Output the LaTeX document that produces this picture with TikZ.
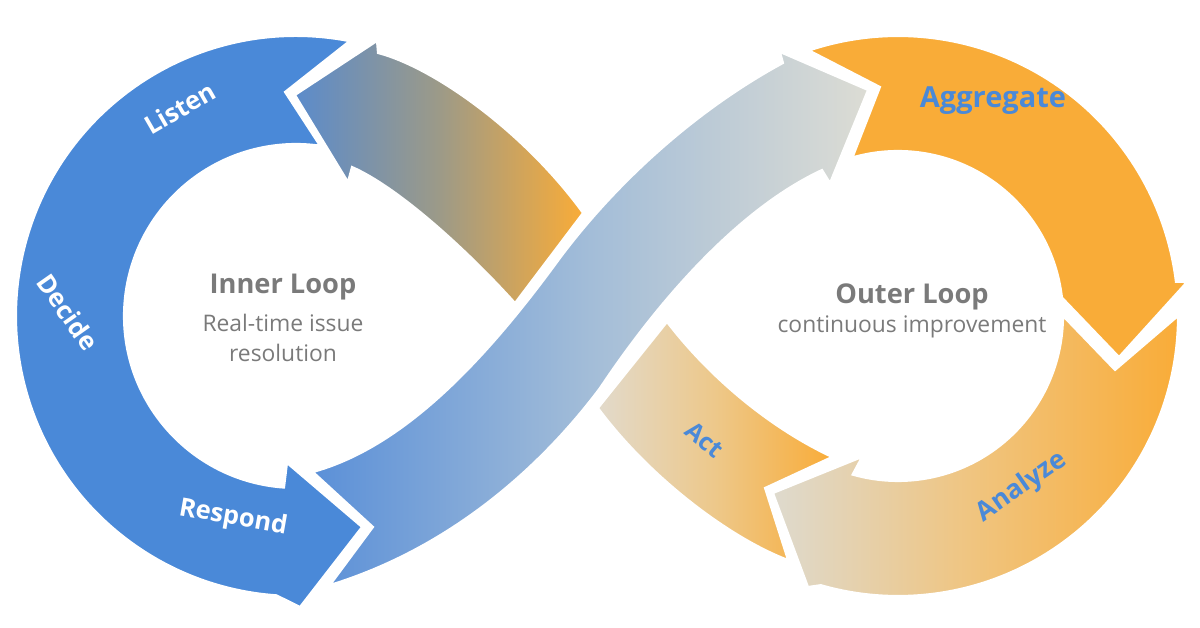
\documentclass[tikz,border=0pt]{standalone}
\usepackage{fontspec}
\setmainfont{Open Sans}
\usetikzlibrary{calc}
\begin{document}
\begin{tikzpicture}[x=0.02cm,y=0.02cm,
  seg/.style={draw=white,line width=1.2pt},
  lab/.style={font=\bfseries\fontsize{14.5}{16}\selectfont,text=white},
  blab/.style={font=\bfseries\fontsize{16.5}{18}\selectfont,text=bblue},
  ttl/.style={font=\bfseries\fontsize{15.5}{18}\selectfont,text=tgrey},
  sub/.style={font=\fontsize{13}{15}\selectfont,text=tgrey}]
\definecolor{bblue}{HTML}{4A89D8}
\definecolor{org}{HTML}{F9AC38}
\definecolor{tgrey}{HTML}{7A7A7A}
\definecolor{aL}{HTML}{5B8BCB}\definecolor{aM}{HTML}{9C9A88}
\definecolor{eL}{HTML}{E2DACB}\definecolor{eM}{HTML}{EDC88A}
\definecolor{dL}{HTML}{DEDACE}\definecolor{dM}{HTML}{F0C47E}
\definecolor{bL}{HTML}{5B90D8}\definecolor{bM}{HTML}{A3BDD8}\definecolor{bR}{HTML}{DCDCD4}
\useasboundingbox (0,0) rectangle (1200,628);
\coordinate (L) at (296,312);
\coordinate (R) at (898,312);
% left blue band
\path[seg,fill=bblue] ($(L)+(79:280)$) arc[start angle=79,end angle=266,radius=280]
  -- (300,21) -- (362,101) -- (287,165) -- ($(L)+(266:172)$)
  arc[start angle=266,end angle=82,radius=172] -- (285,536) -- cycle;
% A: grey-orange arrow to Listen
\path[seg,left color=aL,right color=org,middle color=aM]
  (295,533) -- (377,587) -- (378,575) .. controls (435,560) and (525,495) .. (583,415)
  -- (515,325) .. controls (470,375) and (400,440) .. (352,461) -- (348,446) -- cycle;
% E: Act
\path[seg,left color=eL,right color=org,middle color=eM]
  (667,306) .. controls (710,250) and (770,200) .. (832,171) -- (765,140) -- (788,68)
  .. controls (730,90) and (650,150) .. (598,220) -- cycle;
% D: Analyze
\path[seg,left color=dL,right color=org,middle color=dM]
  ($(R)+(0:280)$) arc[start angle=0,end angle=-106,radius=280] -- (808,41) -- (773,135)
  -- (862,171) -- ($(R)+(-106:165)$) arc[start angle=-106,end angle=0,radius=165]
  -- (1115,258) -- cycle;
% C: Aggregate
\path[seg,fill=org] ($(R)+(108.5:280)$) arc[start angle=108.5,end angle=7,radius=280]
  -- (1187,346) -- (1119,271) -- (1048,345) -- ($(R)+(7:165)$)
  arc[start angle=7,end angle=106,radius=165] -- (880,541) -- cycle;
% B: crossing
\path[seg,left color=bL,right color=bR,middle color=bM]
  (313,156) -- (373,101) -- (330,43) .. controls (450,80) and (540,160) .. (600,240)
  .. controls (660,330) and (740,420) .. (822,458) -- (830,445) -- (868,538) -- (780,576)
  -- (783,565) .. controls (700,520) and (620,450) .. (560,370)
  .. controls (480,260) and (400,180) .. (313,156) -- cycle;
% labels
\node[lab,rotate=30] (listen) at (180,520) {Listen};
\node[lab,rotate=-55] (decide) at (68,316) {Decide};
\node[lab,rotate=-10] (respond) at (233,110) {Respond};
\node[blab] (agg) at (993,527) {Aggregate};
\node[blab,font=\bfseries\fontsize{14}{16}\selectfont,rotate=-40] (act) at (705,188) {Act};
\node[blab,font=\bfseries\fontsize{15}{17}\selectfont,rotate=35] (ana) at (1022,141) {Analyze};
\node[ttl] (il) at (283,341) {Inner Loop};
\node[sub] (il1) at (283,305) {Real-time issue};
\node[sub] (il2) at (283,275) {resolution};
\node[ttl] (ol) at (912,331) {Outer Loop};
\node[sub] (ol1) at (912,301) {continuous improvement};
\end{tikzpicture}
\end{document}
